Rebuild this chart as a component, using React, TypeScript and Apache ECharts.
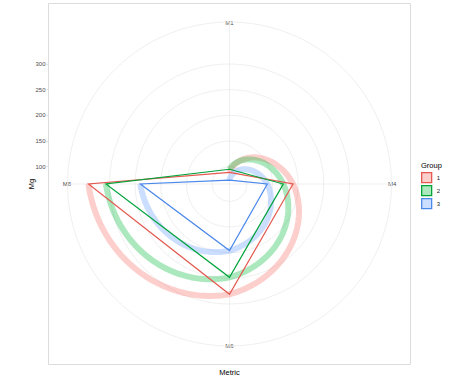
import React, { useEffect, useRef } from 'react';
import * as echarts from 'echarts';

const metrics = ['M1', 'M4', 'M6', 'M8'];
const groups = ['1', '2', '3'];
const group1 = [89, 190, 281, 341];
const group2 = [95, 171, 248, 307];
const group3 = [74, 140, 196, 240];
const groupValues = [group1, group2, group3];
const radialBreaks = [100, 150, 200, 250, 300];

const fillColors = ['rgba(248,118,109,0.35)', 'rgba(0,186,56,0.33)', 'rgba(97,156,255,0.33)'];
const lineColors = ['#E4584F', '#00A33A', '#4A88EA'];

const R_MIN = 66.3;
const R_MAX = 381.8;
const CX = 229.5;
const CY = 184;
const RADIUS = 162;
const FONT = '"Liberation Sans", Arial, Helvetica, sans-serif';
const GRID = '#ebebeb';

export default function App() {
  const ref = useRef<HTMLDivElement>(null);
  useEffect(() => {
    if (!ref.current) return;
    const chart = echarts.init(ref.current, undefined, { renderer: 'svg' });

    const gridSeries = {
      type: 'custom',
      name: 'grid',
      coordinateSystem: 'polar',
      silent: true,
      data: radialBreaks.map((v) => [v, 0]),
      renderItem: (params: any, api: any) => {
        const v = api.value(0);
        const c = api.coord([R_MIN, 0]);
        const p = api.coord([v, 0]);
        const r = Math.hypot(p[0] - c[0], p[1] - c[1]);
        return {
          type: 'circle',
          shape: { cx: c[0], cy: c[1], r },
          style: { fill: 'none', stroke: GRID, lineWidth: 0.8 },
          silent: true,
        };
      },
    };

    const thickSeries = groups.map((g, gi) => ({
      type: 'custom',
      name: g,
      coordinateSystem: 'polar',
      silent: true,
      data: [[groupValues[gi][0], 0]],
      renderItem: (params: any, api: any) => {
        const vals = groupValues[gi];
        const pts: number[][] = [];
        const steps = 60;
        for (let i = 0; i < vals.length - 1; i++) {
          for (let s = 0; s <= steps; s++) {
            if (i > 0 && s === 0) continue;
            const t = s / steps;
            pts.push(api.coord([vals[i] + (vals[i + 1] - vals[i]) * t, i + t]));
          }
        }
        return {
          type: 'polyline',
          shape: { points: pts },
          style: { fill: 'none', stroke: fillColors[gi], lineWidth: 6, lineCap: 'butt', lineJoin: 'round' },
        };
      },
    }));

    const thinSeries = groups.map((g, gi) => ({
      type: 'custom',
      name: g,
      coordinateSystem: 'polar',
      silent: true,
      data: [[groupValues[gi][0], 0]],
      renderItem: (params: any, api: any) => {
        const vals = groupValues[gi];
        const pts = vals.map((v, i) => api.coord([v, i]));
        return {
          type: 'polygon',
          shape: { points: pts },
          style: { fill: 'none', stroke: lineColors[gi], lineWidth: 1.2, lineJoin: 'miter' },
        };
      },
    }));

    chart.setOption({
      animation: false,
      backgroundColor: '#ffffff',
      textStyle: { fontFamily: FONT },
      polar: { center: [CX, CY], radius: [0, RADIUS] },
      radiusAxis: {
        type: 'value',
        min: R_MIN,
        max: R_MAX,
        axisLine: { show: false },
        axisTick: { show: false },
        axisLabel: { show: false },
        splitLine: { show: false },
      },
      angleAxis: {
        type: 'value',
        min: 0,
        max: 4,
        interval: 1,
        startAngle: 90,
        clockwise: true,
        axisLine: { show: true, lineStyle: { color: GRID, width: 0.8 } },
        axisTick: { show: false },
        axisLabel: {
          formatter: (v: number) => metrics[v] ?? '',
          margin: -3.5,
          fontSize: 6,
          color: '#4d4d4d',
          fontFamily: FONT,
        },
        splitLine: { show: true, lineStyle: { color: GRID, width: 0.8 } },
      },
      grid: {
        left: 48.5,
        top: CY - RADIUS,
        width: 362,
        height: RADIUS,
        containLabel: false,
        outerBoundsMode: 'none',
      },
      xAxis: { type: 'value', show: false, min: 0, max: 1 },
      yAxis: {
        type: 'value',
        min: R_MIN,
        max: R_MAX,
        splitNumber: 6,
        axisLine: { show: false },
        axisTick: { show: true, length: 2, lineStyle: { color: '#c8c8c8', width: 0.6 }, customValues: radialBreaks },
        axisLabel: {
          customValues: radialBreaks,
          formatter: (v: number) => (radialBreaks.includes(v) ? String(v) : ''),
          margin: 3,
          fontSize: 6,
          color: '#4d4d4d',
          fontFamily: FONT,
        },
        splitLine: { show: false },
      },
      legend: {
        orient: 'vertical',
        left: 421,
        top: 172,
        itemWidth: 10,
        itemHeight: 10,
        itemGap: 1.7,
        padding: 0,
        icon: 'rect',
        selectedMode: false,
        textStyle: { fontSize: 6, color: '#1a1a1a', fontFamily: FONT },
        data: groups.map((g, i) => ({
          name: g,
          itemStyle: { color: fillColors[i], borderColor: lineColors[i], borderWidth: 1.3 },
        })),
      },
      graphic: [
        {
          type: 'rect',
          z: -10,
          silent: true,
          shape: { x: 48.5, y: 3.5, width: 362, height: 361 },
          style: { fill: 'none', stroke: '#dcdcdc', lineWidth: 1 },
        },
        {
          type: 'text',
          x: 421,
          y: 165,
          style: { text: 'Group', fontSize: 7.5, fill: '#000000', fontFamily: FONT, align: 'left', verticalAlign: 'middle' },
        },
        {
          type: 'text',
          x: 229.5,
          y: 372.5,
          style: { text: 'Metric', fontSize: 7.5, fill: '#000000', fontFamily: FONT, align: 'center', verticalAlign: 'middle' },
        },
        {
          type: 'text',
          x: 31.5,
          y: 184,
          rotation: Math.PI / 2,
          style: { text: 'Mg', fontSize: 7.5, fill: '#000000', fontFamily: FONT, align: 'center', verticalAlign: 'middle' },
        },
      ],
      series: [gridSeries, ...thickSeries, ...thinSeries],
    });

    return () => chart.dispose();
  }, []);

  return <div ref={ref} style={{ position: 'absolute', left: 0, top: 0, width: 474, height: 379 }} />;
}
